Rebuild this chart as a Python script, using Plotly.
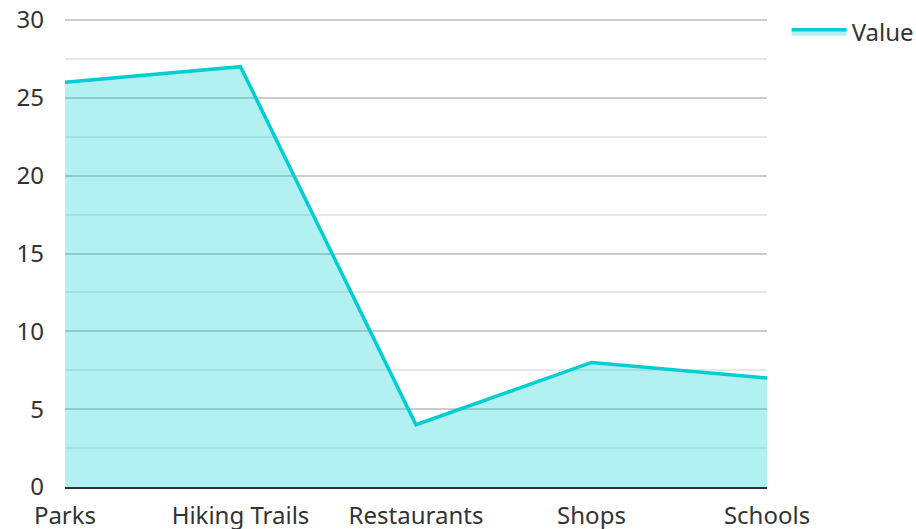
import plotly.graph_objects as go

categories = ["Parks", "Hiking Trails", "Restaurants", "Shops", "Schools"]
values = [26, 27, 4, 8, 7]
series_name = "Value"

fig = go.Figure()
fig.add_trace(go.Scatter(
    x=categories, y=values, name=series_name, mode="lines",
    line=dict(color="#00CED1", width=3.5),
    fill="tozeroy", fillcolor="rgba(0,206,209,0.30)",
))

fig.update_layout(
    width=916, height=529,
    margin=dict(l=65, r=149, t=18, b=42, autoexpand=False),
    plot_bgcolor="white", paper_bgcolor="white",
    font=dict(family="Noto Sans, Open Sans, sans-serif", size=24, color="#333333"),
    showlegend=True,
    legend=dict(x=1.028, y=1.018, xanchor="left", yanchor="top", itemwidth=55,
                font=dict(size=24, color="#333333"), bgcolor="rgba(0,0,0,0)"),
)
fig.update_xaxes(
    type="category", range=[0, 4], showgrid=False,
    showline=True, linecolor="#333333", linewidth=2,
    ticks="", ticklabelstandoff=6, tickfont=dict(size=24, color="#333333"),
    zeroline=False,
)
fig.update_yaxes(
    range=[0, 30.13], tickvals=[0, 5, 10, 15, 20, 25, 30],
    showgrid=True, gridcolor="#cccccc", gridwidth=1.5,
    minor=dict(tickvals=[2.5, 7.5, 12.5, 17.5, 22.5, 27.5], showgrid=True,
               gridcolor="#e8e8e8", gridwidth=1.5),
    zeroline=False, showline=False, ticks="",
    tickfont=dict(size=24, color="#333333"), ticklabelstandoff=20,
)

fig.write_html("out.html", config={"displayModeBar": False},
               post_script="document.body.style.margin='0';")
